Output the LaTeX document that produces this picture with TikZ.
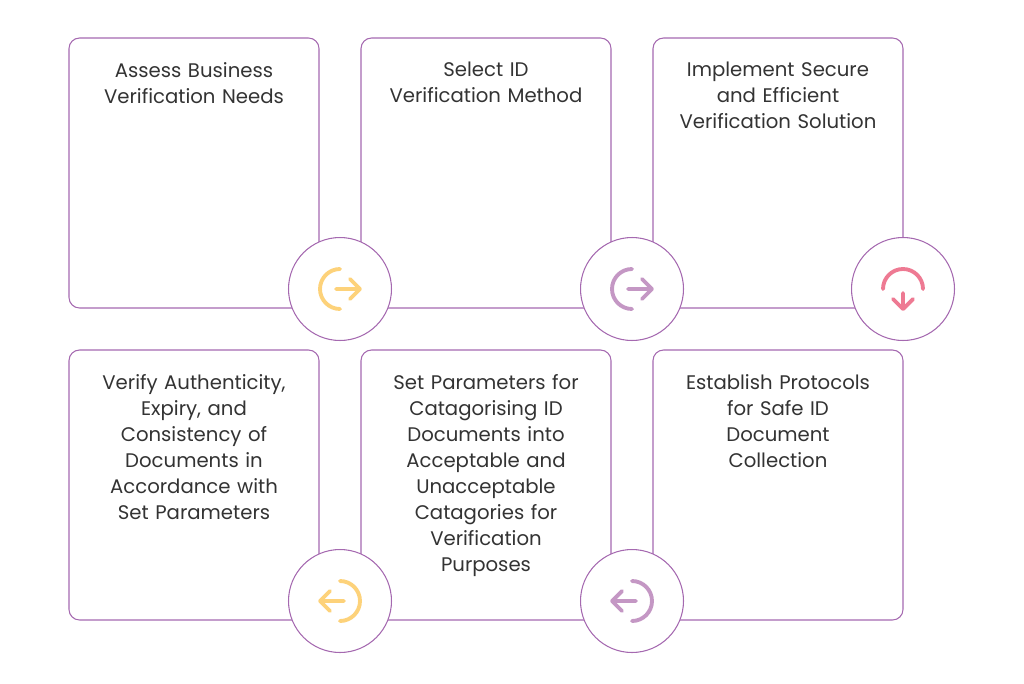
\documentclass[tikz,border=0pt]{standalone}
\usepackage{fontspec}
\setmainfont{Poppins}
\definecolor{frame}{HTML}{A569B0}
\definecolor{sun}{HTML}{FDD27A}
\definecolor{lilac}{HTML}{C497C4}
\definecolor{rose}{HTML}{EE7A93}
\begin{document}
\begin{tikzpicture}[x=0.02cm,y=-0.02cm,
    box/.style={draw=frame,line width=0.6pt,rounded corners=6pt},
    stage/.style={anchor=north,align=center,text width=4.5cm,inner sep=0pt,
      font=\fontsize{11.2}{14.8}\selectfont,text=black!80},
    ring/.style={circle,draw=frame,fill=white,line width=0.6pt,minimum size=2.06cm,inner sep=0pt},
    icon/.style={line width=2.2pt,line cap=round,line join=round}]
  \useasboundingbox (0,0) rectangle (1024,683);
  % boxes
  \draw[box] (69,38) rectangle (319,308);
  \draw[box] (361,38) rectangle (611,308);
  \draw[box] (653,38) rectangle (903,308);
  \draw[box] (69,350) rectangle (319,620);
  \draw[box] (361,350) rectangle (611,620);
  \draw[box] (653,350) rectangle (903,620);
  % texts
  \node[stage] (t1) at (194,62) {Assess Business\\Verification Needs};
  \node[stage] (t2) at (486,62) {Select ID\\Verification Method};
  \node[stage] (t3) at (778,62) {Implement Secure\\and Efficient\\Verification Solution};
  \node[stage] (t4) at (194,374) {Verify Authenticity,\\Expiry, and\\Consistency of\\Documents in\\Accordance with\\Set Parameters};
  \node[stage] (t5) at (486,374) {Set Parameters for\\Catagorising ID\\Documents into\\Acceptable and\\Unacceptable\\Catagories for\\Verification\\Purposes};
  \node[stage] (t6) at (778,374) {Establish Protocols\\for Safe ID\\Document\\Collection};
  % rings
  \node[ring] (r1) at (340,289) {};
  \node[ring] (r2) at (632,289) {};
  \node[ring] (r3) at (903,289) {};
  \node[ring] (r4) at (340,601) {};
  \node[ring] (r5) at (632,601) {};
  % icons
  \draw[icon,sun] ([shift={(0,-20)}]r1.center) arc[start angle=90,end angle=270,radius=20*0.02cm];
  \draw[icon,sun] ([xshift=-4*0.02cm]r1.center) -- ([xshift=20*0.02cm]r1.center)
    ++(-10*0.02cm,-10*0.02cm) -- ++(10*0.02cm,10*0.02cm) -- ++(-10*0.02cm,10*0.02cm);
  \draw[icon,lilac] ([shift={(0,-20)}]r2.center) arc[start angle=90,end angle=270,radius=20*0.02cm];
  \draw[icon,lilac] ([xshift=-4*0.02cm]r2.center) -- ([xshift=20*0.02cm]r2.center)
    ++(-10*0.02cm,-10*0.02cm) -- ++(10*0.02cm,10*0.02cm) -- ++(-10*0.02cm,10*0.02cm);
  \draw[icon,rose] ([shift={(-20,0)}]r3.center) arc[start angle=180,end angle=0,radius=20*0.02cm];
  \draw[icon,rose] ([yshift=-4*0.02cm]r3.center) -- ([yshift=-20*0.02cm]r3.center)
    ++(-10*0.02cm,10*0.02cm) -- ++(10*0.02cm,-10*0.02cm) -- ++(10*0.02cm,10*0.02cm);
  \draw[icon,sun] ([shift={(0,-20)}]r4.center) arc[start angle=90,end angle=-90,radius=20*0.02cm];
  \draw[icon,sun] ([xshift=4*0.02cm]r4.center) -- ([xshift=-20*0.02cm]r4.center)
    ++(10*0.02cm,-10*0.02cm) -- ++(-10*0.02cm,10*0.02cm) -- ++(10*0.02cm,10*0.02cm);
  \draw[icon,lilac] ([shift={(0,-20)}]r5.center) arc[start angle=90,end angle=-90,radius=20*0.02cm];
  \draw[icon,lilac] ([xshift=4*0.02cm]r5.center) -- ([xshift=-20*0.02cm]r5.center)
    ++(10*0.02cm,-10*0.02cm) -- ++(-10*0.02cm,10*0.02cm) -- ++(10*0.02cm,10*0.02cm);
\end{tikzpicture}
\end{document}
